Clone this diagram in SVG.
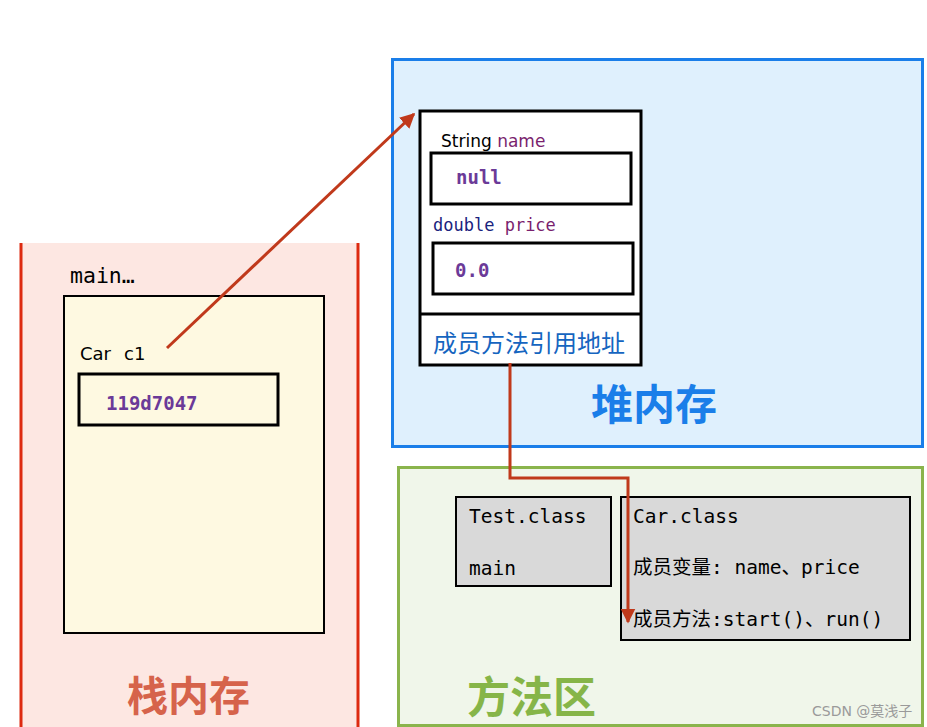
<svg xmlns="http://www.w3.org/2000/svg" width="927" height="727" viewBox="0 0 927 727">
<defs>
<marker id="ah" viewBox="0 0 10 10" refX="9" refY="5" markerWidth="5" markerHeight="5" orient="auto" markerUnits="strokeWidth">
<path d="M0,0 L10,5 L0,10 z" fill="#c0391b"/>
</marker>
<style>
.mono{font-family:"DejaVu Sans Mono","Liberation Mono",monospace;}
.sans{font-family:"DejaVu Sans","Noto Sans CJK SC",sans-serif;}
.cjk{font-family:"Noto Sans CJK SC",sans-serif;}
.box{stroke:#000;stroke-width:3;}
.val{fill:#6b3a98;font-weight:bold;font-size:19px;}
.cls{font-size:19.5px;fill:#000;font-family:"DejaVu Sans Mono","Noto Sans CJK SC",monospace;}
.conn{fill:none;stroke:#c0391b;stroke-width:3;}
</style>
</defs>
<rect width="927" height="727" fill="#fff"/>
<g id="stack">
<rect x="20" y="243" width="338" height="484" fill="#fde7e2"/>
<line x1="21" y1="243" x2="21" y2="727" stroke="#dd2a10" stroke-width="3"/>
<line x1="358" y1="243" x2="358" y2="727" stroke="#dd2a10" stroke-width="3"/>
<text x="70" y="283" class="mono" font-size="21.5" fill="#000">main…</text>
<text x="127" y="711" class="cjk" font-size="41" font-weight="bold" fill="#d6634b">栈内存</text>
</g>
<g id="frame">
<rect x="64" y="296" width="260" height="337" fill="#fef9e1" stroke="#000" stroke-width="2"/>
<text x="80" y="360" class="sans" font-size="18" fill="#000">Car</text>
<text x="124" y="360" class="sans" font-size="18" fill="#000">c1</text>
<rect x="79" y="374" width="199" height="51" fill="#fef9e1" class="box"/>
<text x="106" y="410" class="mono val">119d7047</text>
</g>
<g id="heap">
<rect x="392.5" y="59.5" width="530" height="387" fill="#dff0fd" stroke="#1a7ee9" stroke-width="3"/>
<text x="591" y="420" class="cjk" font-size="42" font-weight="bold" fill="#1a7ee9">堆内存</text>
</g>
<g id="object">
<rect x="420" y="111" width="221" height="254" fill="#fff" class="box"/>
<line x1="420" y1="314" x2="641" y2="314" stroke="#000" stroke-width="3"/>
<text x="441" y="147" class="sans" font-size="17" fill="#000">String <tspan fill="#7a1f6e">name</tspan></text>
<rect x="431" y="153" width="200" height="51" fill="#fff" class="box"/>
<text x="456" y="184" class="mono val">null</text>
<text x="433" y="231" class="mono" font-size="17" fill="#1a237e">double <tspan fill="#7a1f6e">price</tspan></text>
<rect x="433" y="243" width="200" height="51" fill="#fff" class="box"/>
<text x="455" y="277" class="mono val">0.0</text>
<text x="433" y="352" class="cjk" font-size="24" fill="#1565c0">成员方法引用地址</text>
</g>
<g id="method">
<rect x="398.5" y="467.5" width="524" height="258" fill="#f0f6ea" stroke="#8ab44c" stroke-width="3"/>
<text x="467" y="713" class="cjk" font-size="43" font-weight="bold" fill="#86b548">方法区</text>
<text x="812" y="716" class="sans" font-size="14" fill="#9a9a9a">CSDN @莫浅子</text>
</g>
<g id="testclass">
<rect x="456" y="497" width="155" height="89" fill="#d9d9d9" stroke="#000" stroke-width="2"/>
<text x="469" y="523" class="cls">Test.class</text>
<text x="469" y="575" class="cls">main</text>
</g>
<g id="carclass">
<rect x="621" y="497" width="289" height="143" fill="#d9d9d9" stroke="#000" stroke-width="2"/>
<text x="633" y="523" class="cls">Car.class</text>
<text x="633" y="574" class="cls">成员变量: name、price</text>
<text x="633" y="626" class="cls">成员方法:start()、run()</text>
</g>
<g id="connectors">
<line x1="167" y1="348" x2="414" y2="114" class="conn" marker-end="url(#ah)"/>
<polyline points="510,363 510,478 628,478 628,622" class="conn" marker-end="url(#ah)"/>
</g>
</svg>
